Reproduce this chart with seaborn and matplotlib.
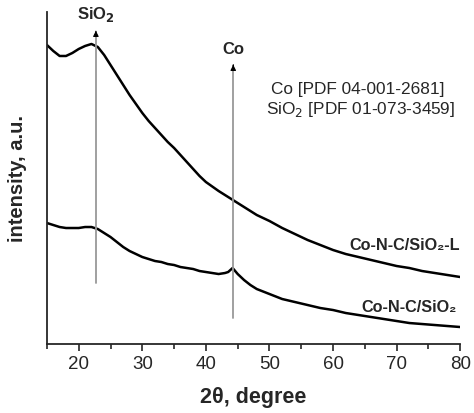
import pandas as pd
import matplotlib.pyplot as plt
import seaborn as sns

# 2theta positions and intensities (a.u.)
two_theta_l = [15, 16, 17, 18, 19, 20, 21, 22, 23, 24, 25, 26, 27, 28, 29, 30,
               31, 32, 33, 34, 35, 36, 37, 38, 39, 40, 42, 44, 46, 48, 50, 52,
               54, 56, 58, 60, 62, 64, 66, 68, 70, 72, 74, 76, 78, 80]
intensity_l = [299, 293, 288, 288, 291, 295, 298, 300, 297, 289, 279, 269, 259,
               249, 240, 231, 223, 216, 209, 202, 196, 189, 182, 175, 168, 162,
               153, 145, 137, 129, 123, 116, 110, 104, 99, 94, 90, 87, 84, 81,
               78, 76, 73, 71, 69, 67]

two_theta = [15, 16, 17, 18, 19, 20, 21, 22, 23, 24, 25, 26, 27, 28, 29, 30,
             31, 32, 33, 34, 35, 36, 37, 38, 39, 40, 41, 42, 43, 43.5, 44.2,
             45, 46, 47, 48, 50, 52, 54, 56, 58, 60, 62, 64, 66, 68, 70, 72,
             74, 76, 78, 80]
intensity = [121, 119, 117, 116, 116, 116, 117, 117, 115, 111, 107, 102, 97,
             93, 90, 87, 85, 83, 82, 80, 79, 77, 76, 75, 73, 72, 71, 70, 71,
             72, 76, 70, 64, 59, 55, 50, 45, 42, 39, 36, 34, 31, 29, 27, 25,
             23, 21, 20, 19, 18, 17]

# reference peak positions (2theta) and arrow spans
peak_names = ["SiO$_\\mathbf{2}$", "Co"]
peak_pos = [22.7, 44.3]
label_y = [329, 294]
arrow_bottom = [61, 26]
arrow_top = [316, 282]

df_l = pd.DataFrame({"x": two_theta_l, "y": intensity_l})
df = pd.DataFrame({"x": two_theta, "y": intensity})

sns.set_style("ticks")
plt.rcParams["font.family"] = ["Liberation Sans", "DejaVu Sans"]

fig = plt.figure(figsize=(4.74, 4.13), dpi=100)
ax = fig.add_axes([0.099, 0.167, 0.872, 0.804])

sns.lineplot(data=df_l, x="x", y="y", color="black", lw=1.8, ax=ax)
sns.lineplot(data=df, x="x", y="y", color="black", lw=1.8, ax=ax)

for name, pos, ly, y0, y1 in zip(peak_names, peak_pos, label_y,
                                 arrow_bottom, arrow_top):
    ax.plot([pos, pos], [y0, y1 - 4], color="#999999", lw=1.3)
    ax.annotate("", xy=(pos, y1), xytext=(pos, y1 - 6),
                arrowprops=dict(arrowstyle="-|>", color="black", lw=0.8,
                                mutation_scale=8))
    ax.text(pos, ly, name, ha="center", va="center", fontsize=12,
            fontweight="bold")

ax.text(63.9, 254, "Co [PDF 04-001-2681]", ha="center", va="center",
        fontsize=12.4)
ax.text(64.3, 234, "SiO$_2$ [PDF 01-073-3459]", ha="center", va="center",
        fontsize=12.4)

ax.text(80, 99, "Co-N-C/SiO₂-L", ha="right", va="center", fontsize=11.7,
        fontweight="bold")
ax.text(79.5, 37, "Co-N-C/SiO₂", ha="right", va="center", fontsize=11.7,
        fontweight="bold")

ax.set_xlim(15, 80)
ax.set_ylim(0, 332)
ax.set_xticks([20, 30, 40, 50, 60, 70, 80])
ax.set_xticks(range(15, 81, 5), minor=True)
ax.set_yticks([])
ax.tick_params(axis="x", labelsize=13.5, length=5, width=1.2)
ax.tick_params(axis="x", which="minor", length=3.5, width=1.2)
ax.set_xlabel("2θ, degree", fontsize=15.5, fontweight="bold", labelpad=10)
ax.set_ylabel("intensity, a.u.", fontsize=14.5, fontweight="bold",
              labelpad=14)
for s in ["left", "bottom"]:
    ax.spines[s].set_linewidth(1.3)
sns.despine(ax=ax)

fig.savefig("out.png", dpi=100)
